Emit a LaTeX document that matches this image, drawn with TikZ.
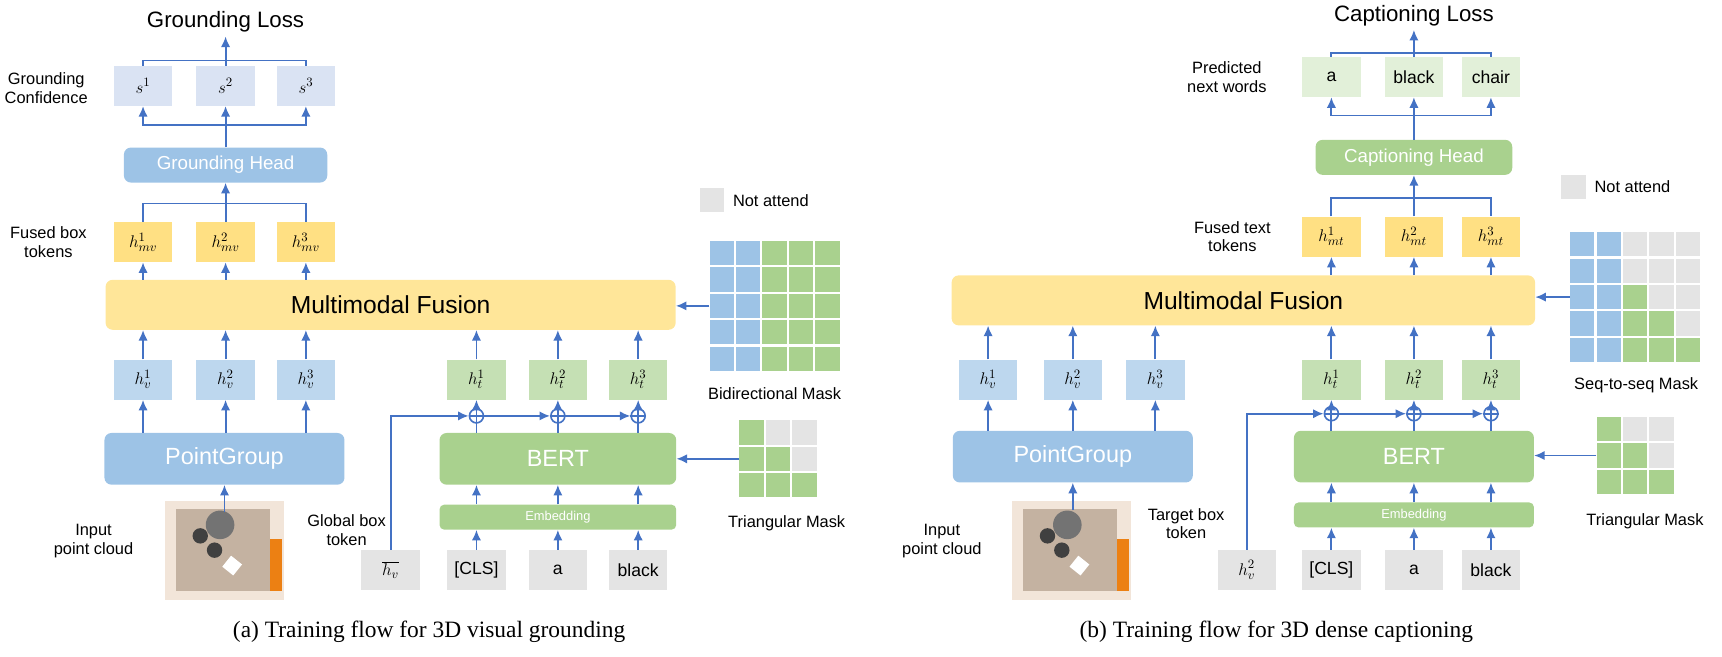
\documentclass[tikz,border=0pt]{standalone}
\usepackage{fontspec}
\setmainfont{Liberation Sans}
\newfontfamily\capfont{Liberation Serif}
\usetikzlibrary{positioning}
\usetikzlibrary{calc}
\usetikzlibrary{arrows.meta}

\definecolor{arrblue}{HTML}{4472C4}
\definecolor{boxblue}{HTML}{9DC3E6}
\definecolor{tokblue}{HTML}{BDD7EE}
\definecolor{sblue}{HTML}{DAE3F3}
\definecolor{boxgreen}{HTML}{A9D18E}
\definecolor{tokgreen}{HTML}{C5E0B4}
\definecolor{wordgreen}{HTML}{E2F0D9}
\definecolor{boxyellow}{HTML}{FFE699}
\definecolor{tokyellow}{HTML}{FFE083}
\definecolor{notgray}{HTML}{E4E4E4}

\begin{document}
\begin{tikzpicture}[
x=0.033cm, y=-0.033cm,
token/.style={
    rectangle,
    minimum width=1.75cm,
    minimum height=1.2cm,
    inner sep=0pt,
    font=\fontsize{15}{17}\selectfont,
},
block/.style={
    rectangle,
    rounded corners=6pt,
    inner sep=0pt,
    text=white,
    font=\fontsize{20}{22}\selectfont,
},
cell/.style={
    rectangle,
    minimum size=0.73cm,
    inner sep=0pt,
},
lbl/.style={align=center, font=\fontsize{14}{16}\selectfont},
plus/.style={circle, draw=arrblue, line width=1.4pt, minimum size=0.42cm, inner sep=0pt},
arr/.style={-{Latex[length=9pt,width=8pt]}, arrblue, line width=1.6pt},
flow/.style={arrblue, line width=1.6pt},
]
\useasboundingbox (0,0) rectangle (1565,597);

% ---------------- (a) grounding ----------------
\node[font=\fontsize{19}{21}\selectfont] (gloss) at (205,20) {Grounding Loss};
\node[token, fill=sblue] (s1) at (130,78) {$s^1$};
\node[token, fill=sblue] (s2) at (205,78) {$s^2$};
\node[token, fill=sblue] (s3) at (278,78) {$s^3$};
\node[lbl] (gconf) at (42,80) {Grounding\\Confidence};

\node[block, fill=boxblue, minimum width=6.1cm, minimum height=1.05cm, font=\fontsize{16}{18}\selectfont] (ghead) at (205,150) {Grounding Head};

\node[token, fill=tokyellow] (hmv1) at (130,220) {$h^1_{mv}$};
\node[token, fill=tokyellow] (hmv2) at (205,220) {$h^2_{mv}$};
\node[token, fill=tokyellow] (hmv3) at (278,220) {$h^3_{mv}$};
\node[lbl] (fbox) at (44,220) {Fused box\\tokens};

\node[block, fill=boxyellow, text=black, minimum width=17.1cm, minimum height=1.5cm, font=\fontsize{21}{23}\selectfont] (fus) at (355,277) {Multimodal Fusion};

\node[token, fill=tokblue] (hv1) at (130,345) {$h^1_v$};
\node[token, fill=tokblue] (hv2) at (205,345) {$h^2_v$};
\node[token, fill=tokblue] (hv3) at (278,345) {$h^3_v$};
\node[token, fill=tokgreen] (ht1) at (433,345) {$h^1_t$};
\node[token, fill=tokgreen] (ht2) at (507,345) {$h^2_t$};
\node[token, fill=tokgreen] (ht3) at (580,345) {$h^3_t$};

\node[plus] (p1) at (433,378) {};
\node[plus] (p2) at (507,378) {};
\node[plus] (p3) at (580,378) {};

\node[block, fill=boxblue, minimum width=7.2cm, minimum height=1.55cm] (pg) at (204,417) {PointGroup};
\node[block, fill=boxgreen, minimum width=7.1cm, minimum height=1.55cm] (bert) at (507,417) {BERT};
\node[block, fill=boxgreen, rounded corners=4pt, minimum width=7.1cm, minimum height=0.75cm, font=\fontsize{11}{13}\selectfont] (emb) at (507,470) {Embedding};

\node[token, fill=notgray] (gtok) at (355,518) {$\overline{h_v}$};
\node[token, fill=notgray] (cls1) at (433,518) {[CLS]};
\node[token, fill=notgray] (a1) at (507,518) {a};
\node[token, fill=notgray] (blk1) at (580,518) {black};

% point cloud
\begin{scope}[shift={(150,455)}]
\fill[brown!20!white] (0,0) rectangle (108,90);
\fill[brown!45!gray!60] (10,8) rectangle (95,82);
\fill[orange!70!brown] (95,35) rectangle (106,82);
\fill[gray!90!black] (50,22) circle (13);
\foreach \px/\py in {32,22 75,25 30,65 55,75 70,45}
  \fill[black!75] (\px,\py) circle (7);
\fill[white] (60,50) -- (70,58) -- (62,68) -- (52,60) -- cycle;
\end{scope}
\node[lbl] (inpc1) at (85,492) {Input\\point cloud};
\node[lbl] (gbt) at (315,482) {Global box\\token};

% masks
\node[cell, fill=notgray] (na1) at (647,182) {};
\node[lbl, anchor=west] (nat1) at (na1.east) {~Not attend};
\foreach \r in {0,...,4}
  \foreach \c in {0,...,4} {
    \ifnum\c<2 \def\cc{boxblue}\else\def\cc{boxgreen}\fi
    \node[cell, fill=\cc] (bm-\r-\c) at (656+\c*24, 230+\r*24) {};
  }
\node[lbl] (bml) at (704,358) {Bidirectional Mask};
\foreach \r in {0,...,2}
  \foreach \c in {0,...,2} {
    \ifnum\c>\r \def\cc{notgray}\else\def\cc{boxgreen}\fi
    \node[cell, fill=\cc] (tm-\r-\c) at (683+\c*24, 393+\r*24) {};
  }
\node[lbl] (tml) at (715,476) {Triangular Mask};

% connectors
\coordinate (gb3) at (205,55);
\coordinate (gb2) at (205,114);
\coordinate (gb1) at (205,185);
\draw[flow] (s1.north) |- (gb3) -| (s3.north);
\draw[arr] (s2.north) -- (gloss.south);
\draw[flow] (ghead.north) -- (gb2);
\draw[arr] (gb2) -| (s1.south);
\draw[arr] (gb2) -- (s2.south);
\draw[arr] (gb2) -| (s3.south);
\draw[flow] (hmv1.north) |- (gb1) -| (hmv3.north);
\draw[arr] (hmv2.north) -- (ghead.south);
\foreach \n in {1,2,3} {
  \draw[arr] (fus.north -| hmv\n) -- (hmv\n.south);
  \draw[arr] (hv\n.north) -- (fus.south -| hv\n);
  \draw[arr] (pg.north -| hv\n) -- (hv\n.south);
  \draw[arr] (ht\n.north) -- (fus.south -| ht\n);
  \draw[arr] (bert.north -| ht\n) -- (ht\n.south);
  \draw[arr] (emb.north -| ht\n) -- (bert.south -| ht\n);
  \draw[flow] (p\n.west) -- (p\n.east);
}
\draw[arr] (cls1.north) -- (emb.south -| cls1);
\draw[arr] (a1.north) -- (emb.south -| a1);
\draw[arr] (blk1.north) -- (emb.south -| blk1);
\draw[arr] (gtok.north) |- (p1.west);
\draw[arr] (p1.east) -- (p2.west);
\draw[arr] (p2.east) -- (p3.west);
\draw[arr] ($(pg.south)+(0,25)$) -- (pg.south);
\draw[arr] (bm-2-0.west) -- (fus.east |- bm-2-0);
\draw[arr] (tm-1-0.west) -- (bert.east |- tm-1-0);

\node[font=\capfont\fontsize{20}{22}\selectfont] (capa) at (390,574) {(a) Training flow for 3D visual grounding};

% ---------------- (b) captioning ----------------
\node[font=\fontsize{19}{21}\selectfont] (closs) at (1285,14) {Captioning Loss};
\node[token, fill=wordgreen] (w1) at (1210,70) {a};
\node[token, fill=wordgreen] (w2) at (1285,70) {black};
\node[token, fill=wordgreen] (w3) at (1355,70) {chair};
\node[lbl] (pnw) at (1115,70) {Predicted\\next words};

\node[block, fill=boxgreen, minimum width=5.9cm, minimum height=1.05cm, font=\fontsize{16}{18}\selectfont] (chead) at (1285,143) {Captioning Head};

\node[token, fill=tokyellow] (hmt1) at (1210,215) {$h^1_{mt}$};
\node[token, fill=tokyellow] (hmt2) at (1285,215) {$h^2_{mt}$};
\node[token, fill=tokyellow] (hmt3) at (1355,215) {$h^3_{mt}$};
\node[lbl] (ftt) at (1120,215) {Fused text\\tokens};

\node[block, fill=boxyellow, text=black, minimum width=17.5cm, minimum height=1.5cm, font=\fontsize{21}{23}\selectfont] (fusb) at (1130,273) {Multimodal Fusion};

\node[token, fill=tokblue] (hvb1) at (898,345) {$h^1_v$};
\node[token, fill=tokblue] (hvb2) at (975,345) {$h^2_v$};
\node[token, fill=tokblue] (hvb3) at (1050,345) {$h^3_v$};
\node[token, fill=tokgreen] (htb1) at (1210,345) {$h^1_t$};
\node[token, fill=tokgreen] (htb2) at (1285,345) {$h^2_t$};
\node[token, fill=tokgreen] (htb3) at (1355,345) {$h^3_t$};

\node[plus] (q1) at (1210,376) {};
\node[plus] (q2) at (1285,376) {};
\node[plus] (q3) at (1355,376) {};

\node[block, fill=boxblue, minimum width=7.2cm, minimum height=1.55cm] (pgb) at (975,415) {PointGroup};
\node[block, fill=boxgreen, minimum width=7.2cm, minimum height=1.55cm] (bertb) at (1285,415) {BERT};
\node[block, fill=boxgreen, rounded corners=4pt, minimum width=7.2cm, minimum height=0.75cm, font=\fontsize{11}{13}\selectfont] (embb) at (1285,468) {Embedding};

\node[token, fill=notgray] (ttok) at (1133,518) {$h^2_v$};
\node[token, fill=notgray] (cls2) at (1210,518) {[CLS]};
\node[token, fill=notgray] (a2) at (1285,518) {a};
\node[token, fill=notgray] (blk2) at (1355,518) {black};

% point cloud
\begin{scope}[shift={(920,455)}]
\fill[brown!20!white] (0,0) rectangle (108,90);
\fill[brown!45!gray!60] (10,8) rectangle (95,82);
\fill[orange!70!brown] (95,35) rectangle (106,82);
\fill[gray!90!black] (50,22) circle (13);
\foreach \px/\py in {32,22 75,25 30,65 55,75 70,45}
  \fill[black!75] (\px,\py) circle (7);
\fill[white] (60,50) -- (70,58) -- (62,68) -- (52,60) -- cycle;
\end{scope}
\node[lbl] (inpc2) at (856,492) {Input\\point cloud};
\node[lbl] (tbt) at (1078,476) {Target box\\token};

% masks
\node[cell, fill=notgray] (na2) at (1430,170) {};
\node[lbl, anchor=west] (nat2) at (na2.east) {~Not attend};
\foreach \r in {0,...,4}
  \foreach \c in {0,...,4} {
    \ifnum\c<2 \def\cc{boxblue}\else\ifnum\c>\r \def\cc{notgray}\else\def\cc{boxgreen}\fi\fi
    \node[cell, fill=\cc] (sm-\r-\c) at (1438+\c*24, 222+\r*24) {};
  }
\node[lbl] (sml) at (1487,350) {Seq-to-seq Mask};
\foreach \r in {0,...,2}
  \foreach \c in {0,...,2} {
    \ifnum\c>\r \def\cc{notgray}\else\def\cc{boxgreen}\fi
    \node[cell, fill=\cc] (tb-\r-\c) at (1462+\c*24, 390+\r*24) {};
  }
\node[lbl] (tbl) at (1495,474) {Triangular Mask};

% connectors
\coordinate (cb3) at (1285,48);
\coordinate (cb2) at (1285,105);
\coordinate (cb1) at (1285,180);
\draw[flow] (w1.north) |- (cb3) -| (w3.north);
\draw[arr] (w2.north) -- (closs.south);
\draw[flow] (chead.north) -- (cb2);
\draw[arr] (cb2) -| (w1.south);
\draw[arr] (cb2) -- (w2.south);
\draw[arr] (cb2) -| (w3.south);
\draw[flow] (hmt1.north) |- (cb1) -| (hmt3.north);
\draw[arr] (hmt2.north) -- (chead.south);
\foreach \n in {1,2,3} {
  \draw[arr] (fusb.north -| hmt\n) -- (hmt\n.south);
  \draw[arr] (hvb\n.north) -- (fusb.south -| hvb\n);
  \draw[arr] (pgb.north -| hvb\n) -- (hvb\n.south);
  \draw[arr] (htb\n.north) -- (fusb.south -| htb\n);
  \draw[arr] (bertb.north -| htb\n) -- (htb\n.south);
  \draw[arr] (embb.north -| htb\n) -- (bertb.south -| htb\n);
  \draw[flow] (q\n.west) -- (q\n.east);
}
\draw[arr] (cls2.north) -- (embb.south -| cls2);
\draw[arr] (a2.north) -- (embb.south -| a2);
\draw[arr] (blk2.north) -- (embb.south -| blk2);
\draw[arr] (ttok.north) |- (q1.west);
\draw[arr] (q1.east) -- (q2.west);
\draw[arr] (q2.east) -- (q3.west);
\draw[arr] ($(pgb.south)+(0,25)$) -- (pgb.south);
\draw[arr] (sm-2-0.west) -- (fusb.east |- sm-2-0);
\draw[arr] (tb-1-0.west) -- (bertb.east |- tb-1-0);

\node[font=\capfont\fontsize{20}{22}\selectfont] (capb) at (1160,574) {(b) Training flow for 3D dense captioning};
\end{tikzpicture}
\end{document}
